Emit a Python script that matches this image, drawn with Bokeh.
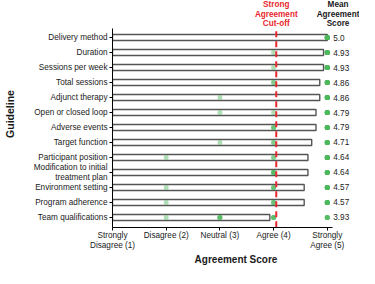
from bokeh.plotting import figure
from bokeh.models import Range1d, FixedTicker, ColumnDataSource
from bokeh.core.properties import value
from bokeh.embed import file_html
from bokeh.resources import INLINE

# ---- data ----
guidelines = ["Delivery method", "Duration", "Sessions per week", "Total sessions",
              "Adjunct therapy", "Open or closed loop", "Adverse events", "Target function",
              "Participant position", "Modification to initial\ntreatment plan",
              "Environment setting", "Program adherence", "Team qualifications"]
means = [5.0, 4.93, 4.93, 4.86, 4.86, 4.79, 4.79, 4.71, 4.64, 4.64, 4.57, 4.57, 3.93]
mean_labels = ["5.0", "4.93", "4.93", "4.86", "4.86", "4.79", "4.79", "4.71",
               "4.64", "4.64", "4.57", "4.57", "3.93"]
# number of responses at each score (1..5)
n_score1 = [0, 0, 0, 0, 0, 0, 0, 0, 0, 0, 0, 0, 0]
n_score2 = [0, 0, 0, 0, 0, 0, 0, 0, 1, 0, 1, 1, 1]
n_score3 = [0, 0, 0, 0, 1, 1, 0, 1, 0, 0, 0, 0, 4]
n_score4 = [0, 1, 1, 2, 0, 1, 3, 2, 2, 5, 3, 3, 4]
n_score5 = [14, 13, 13, 12, 13, 12, 11, 11, 11, 9, 10, 10, 5]
score_values = [1, 2, 3, 4, 5]
score_labels = ["Strongly\nDisagree (1)", "Disagree (2)", "Neutral (3)", "Agree (4)",
                "Strongly\nAgree (5)"]
cutoff = 4.05
cutoff_title = ["Strong", "Agreement", "Cut-off"]
mean_title = ["Mean", "Agreement", "Score"]

FONT = "Liberation Sans"
FS = "8.2px"

rows = list(range(len(guidelines)))

# vertical layout (in row units)
Y_BOTTOM = 12.667
Y_TOP = -2.467
AXIS_TOP = -0.567
HEAD_Y = [-2.167, -1.553, -0.94]

p = figure(width=359, height=268, output_backend="svg", toolbar_location=None,
           title=None,
           x_range=Range1d(1, 5.6), y_range=Range1d(Y_BOTTOM, Y_TOP),
           min_border_left=106, min_border_right=0, min_border_top=0,
           min_border_bottom=41)
p.background_fill_color = "white"
p.border_fill_color = "white"
p.outline_line_color = None
p.xgrid.visible = False
p.ygrid.visible = False

# bars
p.hbar(y=rows, left=score_values[0], right=means, height=0.4,
       fill_color="white", line_color="#555555", line_width=1.4)

# individual response dots
dx, dy = [], []
for counts, s in zip([n_score1, n_score2, n_score3, n_score4, n_score5], score_values):
    for r, c in zip(rows, counts):
        for _ in range(c):
            dx.append(s)
            dy.append(r)
p.scatter(x=dx, y=dy, size=5, marker="circle", fill_color="#4cb85c",
          fill_alpha=0.45, line_color=None)

# mean value labels
src = ColumnDataSource(dict(x=[score_values[-1]] * len(rows), y=rows, t=mean_labels))
p.text(x="x", y="y", text="t", source=src, x_offset=6, text_font=value(FONT),
       text_font_size=FS, text_baseline="middle", text_align="left", text_color="#1a1a1a")

# cutoff line
p.segment(x0=[cutoff], y0=[AXIS_TOP + 0.15], x1=[cutoff], y1=[Y_BOTTOM],
          line_color="#e8262d", line_width=2, line_dash="6 4")

# header texts
p.text(x=[cutoff] * 3, y=HEAD_Y, text=cutoff_title, text_font=value(FONT),
       text_font_size=FS, text_font_style="bold", text_align="center",
       text_baseline="middle", text_color="#e8262d")
p.text(x=[5.2] * 3, y=HEAD_Y, text=mean_title, text_font=value(FONT),
       text_font_size=FS, text_font_style="bold", text_align="center",
       text_baseline="middle", text_color="#1a1a1a")

# axes
xa = p.xaxis[0]
xa.ticker = FixedTicker(ticks=score_values)
xa.major_label_overrides = {v: l for v, l in zip(score_values, score_labels)}
xa.bounds = (1, 5.1)
xa.minor_tick_line_color = None
xa.major_tick_in = 0
xa.major_tick_out = 3
xa.major_label_standoff = 0
xa.major_label_text_font = FONT
xa.major_label_text_font_size = FS
xa.major_label_text_color = "#1a1a1a"
xa.axis_line_color = "black"
xa.major_tick_line_color = "black"
xa.axis_label = "Agreement Score"
xa.axis_label_text_font = FONT
xa.axis_label_text_font_size = "10px"
xa.axis_label_text_font_style = "bold"
xa.axis_label_text_color = "#1a1a1a"
xa.axis_label_standoff = 1

ya = p.yaxis[0]
ya.ticker = FixedTicker(ticks=rows)
ya.major_label_overrides = {r: g for r, g in zip(rows, guidelines)}
ya.bounds = (AXIS_TOP, Y_BOTTOM)
ya.minor_tick_line_color = None
ya.major_tick_in = 0
ya.major_tick_out = 3
ya.major_label_standoff = 2
ya.major_label_text_font = FONT
ya.major_label_text_font_size = FS
ya.major_label_text_color = "#1a1a1a"
ya.axis_line_color = "black"
ya.major_tick_line_color = "black"
ya.axis_label = "Guideline"
ya.axis_label_text_font = FONT
ya.axis_label_text_font_size = "10.5px"
ya.axis_label_text_font_style = "bold"
ya.axis_label_text_color = "#1a1a1a"
ya.axis_label_standoff = 15

open("out.html", "w").write(file_html(p, INLINE))
